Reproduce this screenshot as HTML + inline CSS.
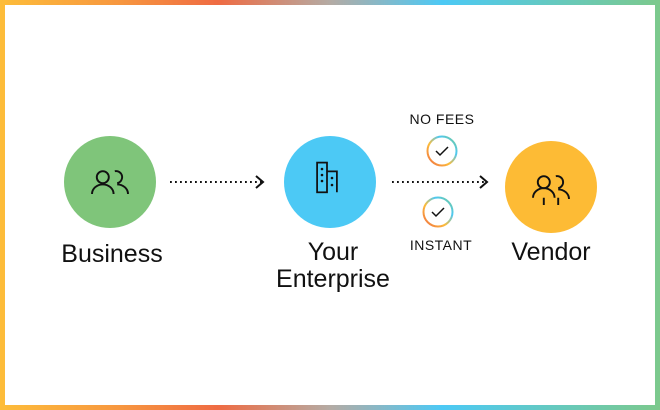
<!DOCTYPE html>
<html><head><style>
html,body{margin:0;padding:0;}
body{width:660px;height:410px;position:relative;overflow:hidden;background:#fff;font-family:"Liberation Sans",sans-serif;}
.frame{position:absolute;left:0;top:0;width:660px;height:410px;background:linear-gradient(90deg,#fdbd3a 0%,#f7973f 18%,#ef6b43 33%,#b4aba4 50%,#4cc9f5 67%,#7cc98c 100%);}
.inner{position:absolute;left:5px;top:5px;width:650px;height:400px;background:#fff;}
.lbl{position:absolute;color:#111;font-size:25px;text-align:center;line-height:27px;}
.sm{position:absolute;color:#111;font-size:14px;letter-spacing:0.5px;text-align:center;}
</style></head><body>
<div class="frame"></div><div class="inner"></div>
<svg width="660" height="410" style="position:absolute;left:0;top:0">
<defs>
<linearGradient id="g" x1="0" y1="1" x2="1" y2="0">
<stop offset="0" stop-color="#ef6b43"/><stop offset="0.4" stop-color="#fdbd3a"/><stop offset="0.7" stop-color="#4cc9f5"/><stop offset="1" stop-color="#7cc98c"/>
</linearGradient>
</defs>
<circle cx="110" cy="182" r="46" fill="#7fc57a"/>
<circle cx="330" cy="182" r="46" fill="#4cc9f5"/>
<circle cx="551" cy="187" r="46" fill="#fdbb35"/>
<g fill="none" stroke="#111" stroke-width="1.6">
<g transform="translate(110 182) scale(1.2) translate(-110 -182)">
<circle cx="104" cy="178" r="5"/><path d="M95 192 a9 8 0 0 1 18 0"/>
<path d="M114 173 a5 5 0 1 1 2 10 M116 184 a9 8 0 0 1 9 8"/></g>
<g transform="translate(327 178) scale(1.1) translate(-327 -178)">
<rect x="318" y="164" width="9" height="27"/><path d="M327 172 h9 v19"/></g>
<g transform="translate(551 187) scale(1.2) translate(-551 -187)">
<circle cx="545" cy="183" r="5"/><path d="M536 196 a9 8 0 0 1 18 0"/>
<path d="M555 178 a5 5 0 1 1 2 10 M557 189 a9 8 0 0 1 9 8"/>
<path d="M545 196 v6 M557 196 v6"/></g>
<path stroke-dasharray="1.8 3.2" stroke-width="2" d="M170 182 H262"/>
<path d="M256 176 l7 6 -7 6" stroke-width="2"/>
<path stroke-dasharray="1.8 3.2" stroke-width="2" d="M392 182 H484"/>
<path d="M480 176 l7 6 -7 6" stroke-width="2"/>
<circle cx="442" cy="151" r="14.5" stroke="url(#g)" stroke-width="2"/>
<circle cx="438" cy="212" r="14.5" stroke="url(#g)" stroke-width="2"/>
<path d="M436 151 l4 4 8 -8" stroke-width="1.5"/>
<path d="M432 212 l4 4 8 -8" stroke-width="1.5"/>
</g>
<g fill="#111"><circle cx="322" cy="169" r="1.3"/><circle cx="322" cy="175" r="1.3"/><circle cx="322" cy="181" r="1.3"/><circle cx="332" cy="178" r="1.3"/><circle cx="332" cy="185" r="1.3"/></g>
</svg>
<div class="lbl" style="left:52px;top:241px;width:120px;">Business</div>
<div class="lbl" style="left:258px;top:239px;width:150px;">Your<br>Enterprise</div>
<div class="lbl" style="left:491px;top:239px;width:120px;">Vendor</div>
<div class="sm" style="left:392px;top:111px;width:100px;">NO FEES</div>
<div class="sm" style="left:391px;top:237px;width:100px;">INSTANT</div>
</body></html>
